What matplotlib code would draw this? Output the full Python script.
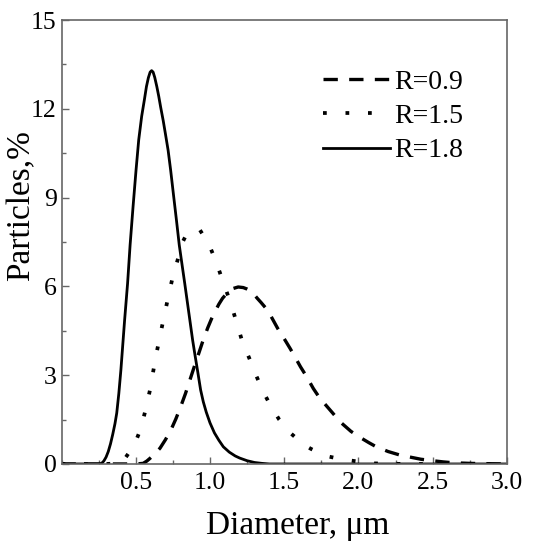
import matplotlib
matplotlib.use("Agg")
import matplotlib.pyplot as plt
from matplotlib.ticker import MultipleLocator

plt.rcParams['font.family'] = ['Liberation Serif', 'DejaVu Serif']

# size distributions (diameter in um, particles in %)
x_r09 = [0.0, 0.5, 0.55, 0.575, 0.596, 0.63, 0.663, 0.70, 0.737, 0.77, 0.803,
         0.835, 0.865, 0.895, 0.928, 0.955, 0.985, 1.01, 1.034, 1.06, 1.085,
         1.12, 1.157, 1.19, 1.224, 1.25, 1.27, 1.295, 1.318, 1.345, 1.377,
         1.41, 1.456, 1.505, 1.54, 1.572, 1.61, 1.651, 1.696, 1.74, 1.78,
         1.83, 1.875, 1.95, 2.02, 2.07, 2.12, 2.2, 2.28, 2.35, 2.42, 2.5,
         2.57, 2.64, 2.75, 2.85, 3.0]
y_r09 = [0, 0, 0.02, 0.1, 0.19, 0.35, 0.53, 0.82, 1.15, 1.52, 1.94,
         2.38, 2.84, 3.3, 3.79, 4.2, 4.6, 4.9, 5.15, 5.4, 5.6,
         5.8, 5.93, 5.98, 5.96, 5.91, 5.86, 5.74, 5.6, 5.45, 5.26,
         5.0, 4.58, 4.19, 3.9, 3.62, 3.28, 2.95, 2.55, 2.22, 1.99,
         1.7, 1.43, 1.1, 0.87, 0.72, 0.58, 0.42, 0.3, 0.23, 0.16, 0.11,
         0.07, 0.04, 0.02, 0.01, 0]

x_r15 = [0.0, 0.3, 0.4, 0.428, 0.49, 0.535, 0.567, 0.596, 0.632, 0.659, 0.69,
         0.717, 0.746, 0.782, 0.814, 0.843, 0.89, 0.933, 0.995, 1.045, 1.094,
         1.14, 1.18, 1.218, 1.265, 1.31, 1.359, 1.409, 1.465, 1.543, 1.635,
         1.68, 1.78, 1.887, 2.0, 2.1, 2.3, 3.0]
y_r15 = [0, 0, 0.02, 0.19, 0.64, 1.2, 1.85, 2.5, 3.54, 4.22, 4.96,
         5.6, 6.25, 6.89, 7.48, 7.77, 7.93, 7.9, 7.4, 6.78, 6.07,
         5.43, 4.77, 4.13, 3.57, 3.0, 2.44, 1.96, 1.51, 1.04, 0.64,
         0.51, 0.27, 0.16, 0.08, 0.02, 0, 0]

x_r18 = [0.0, 0.2, 0.26, 0.27, 0.285, 0.30, 0.315, 0.33, 0.345, 0.36, 0.372,
         0.386, 0.40, 0.425, 0.445, 0.462, 0.482, 0.502, 0.52, 0.54, 0.558,
         0.572, 0.585, 0.597, 0.607, 0.617, 0.628, 0.642, 0.655, 0.668, 0.685,
         0.70, 0.718, 0.735, 0.755, 0.775, 0.793, 0.81, 0.83, 0.85, 0.865,
         0.883, 0.90, 0.918, 0.937, 0.955, 0.975, 1.0, 1.03, 1.06, 1.09,
         1.13, 1.17, 1.2, 1.25, 1.3, 1.35, 1.4, 3.0]
y_r18 = [0, 0, 0, 0.02, 0.1, 0.23, 0.42, 0.68, 1.0, 1.36, 1.72,
         2.38, 3.18, 4.86, 6.1, 7.4, 8.7, 9.93, 10.95, 11.75, 12.3,
         12.75, 13.05, 13.24, 13.29, 13.24, 13.06, 12.75, 12.42, 12.05, 11.6,
         11.15, 10.6, 9.93, 9.06, 8.2, 7.4, 6.8, 6.1, 5.38, 4.84,
         4.19, 3.65, 3.1, 2.5, 2.1, 1.75, 1.39, 1.05, 0.8, 0.58,
         0.4, 0.27, 0.2, 0.11, 0.05, 0.02, 0, 0]

labels = ['R=0.9', 'R=1.5', 'R=1.8']

fig = plt.figure(figsize=(5.41, 5.53), dpi=100)
ax = fig.add_axes([0.1137, 0.161, 0.8233, 0.8028])

ax.plot(x_r09, y_r09, color='black', lw=2.4, linestyle=(0, (4.3, 3.4)), label=labels[0])
ax.plot(x_r15, y_r15, color='black', lw=2.7, linestyle=(0, (1, 5)), label=labels[1])
ax.plot(x_r18, y_r18, color='black', lw=2.0, label=labels[2])

ax.set_xlim(0, 3.0)
ax.set_ylim(0, 15)
ax.xaxis.set_minor_locator(MultipleLocator(0.25))
ax.yaxis.set_major_locator(MultipleLocator(3))
ax.yaxis.set_minor_locator(MultipleLocator(1.5))
ax.set_xticks([0.5, 1.0, 1.5, 2.0, 2.5, 3.0])
ax.set_xticklabels(['0.5', '1.0', '1.5', '2.0', '2.5', '3.0'])
ax.tick_params(which='both', direction='in', colors='#666666', labelcolor='black',
               labelsize=18.5, width=1.0)
ax.tick_params(which='major', length=5)
ax.tick_params(which='minor', length=3)
ax.tick_params(axis='x', pad=6)
for s in ax.spines.values():
    s.set_color('#666666')
    s.set_linewidth(1.2)

ax.set_xlabel('Diameter, μm', fontsize=24)
ax.set_ylabel('Particles,%', fontsize=24)
ax.xaxis.set_label_coords(0.53, -0.105)
ax.yaxis.set_label_coords(-0.057, 0.583)

leg = ax.legend(loc='upper left', bbox_to_anchor=(0.587, 0.889), frameon=False,
                fontsize=20, handlelength=2.4, handletextpad=0.15,
                labelspacing=0.32, borderaxespad=0, borderpad=0)

fig.savefig('out.png', dpi=100)
